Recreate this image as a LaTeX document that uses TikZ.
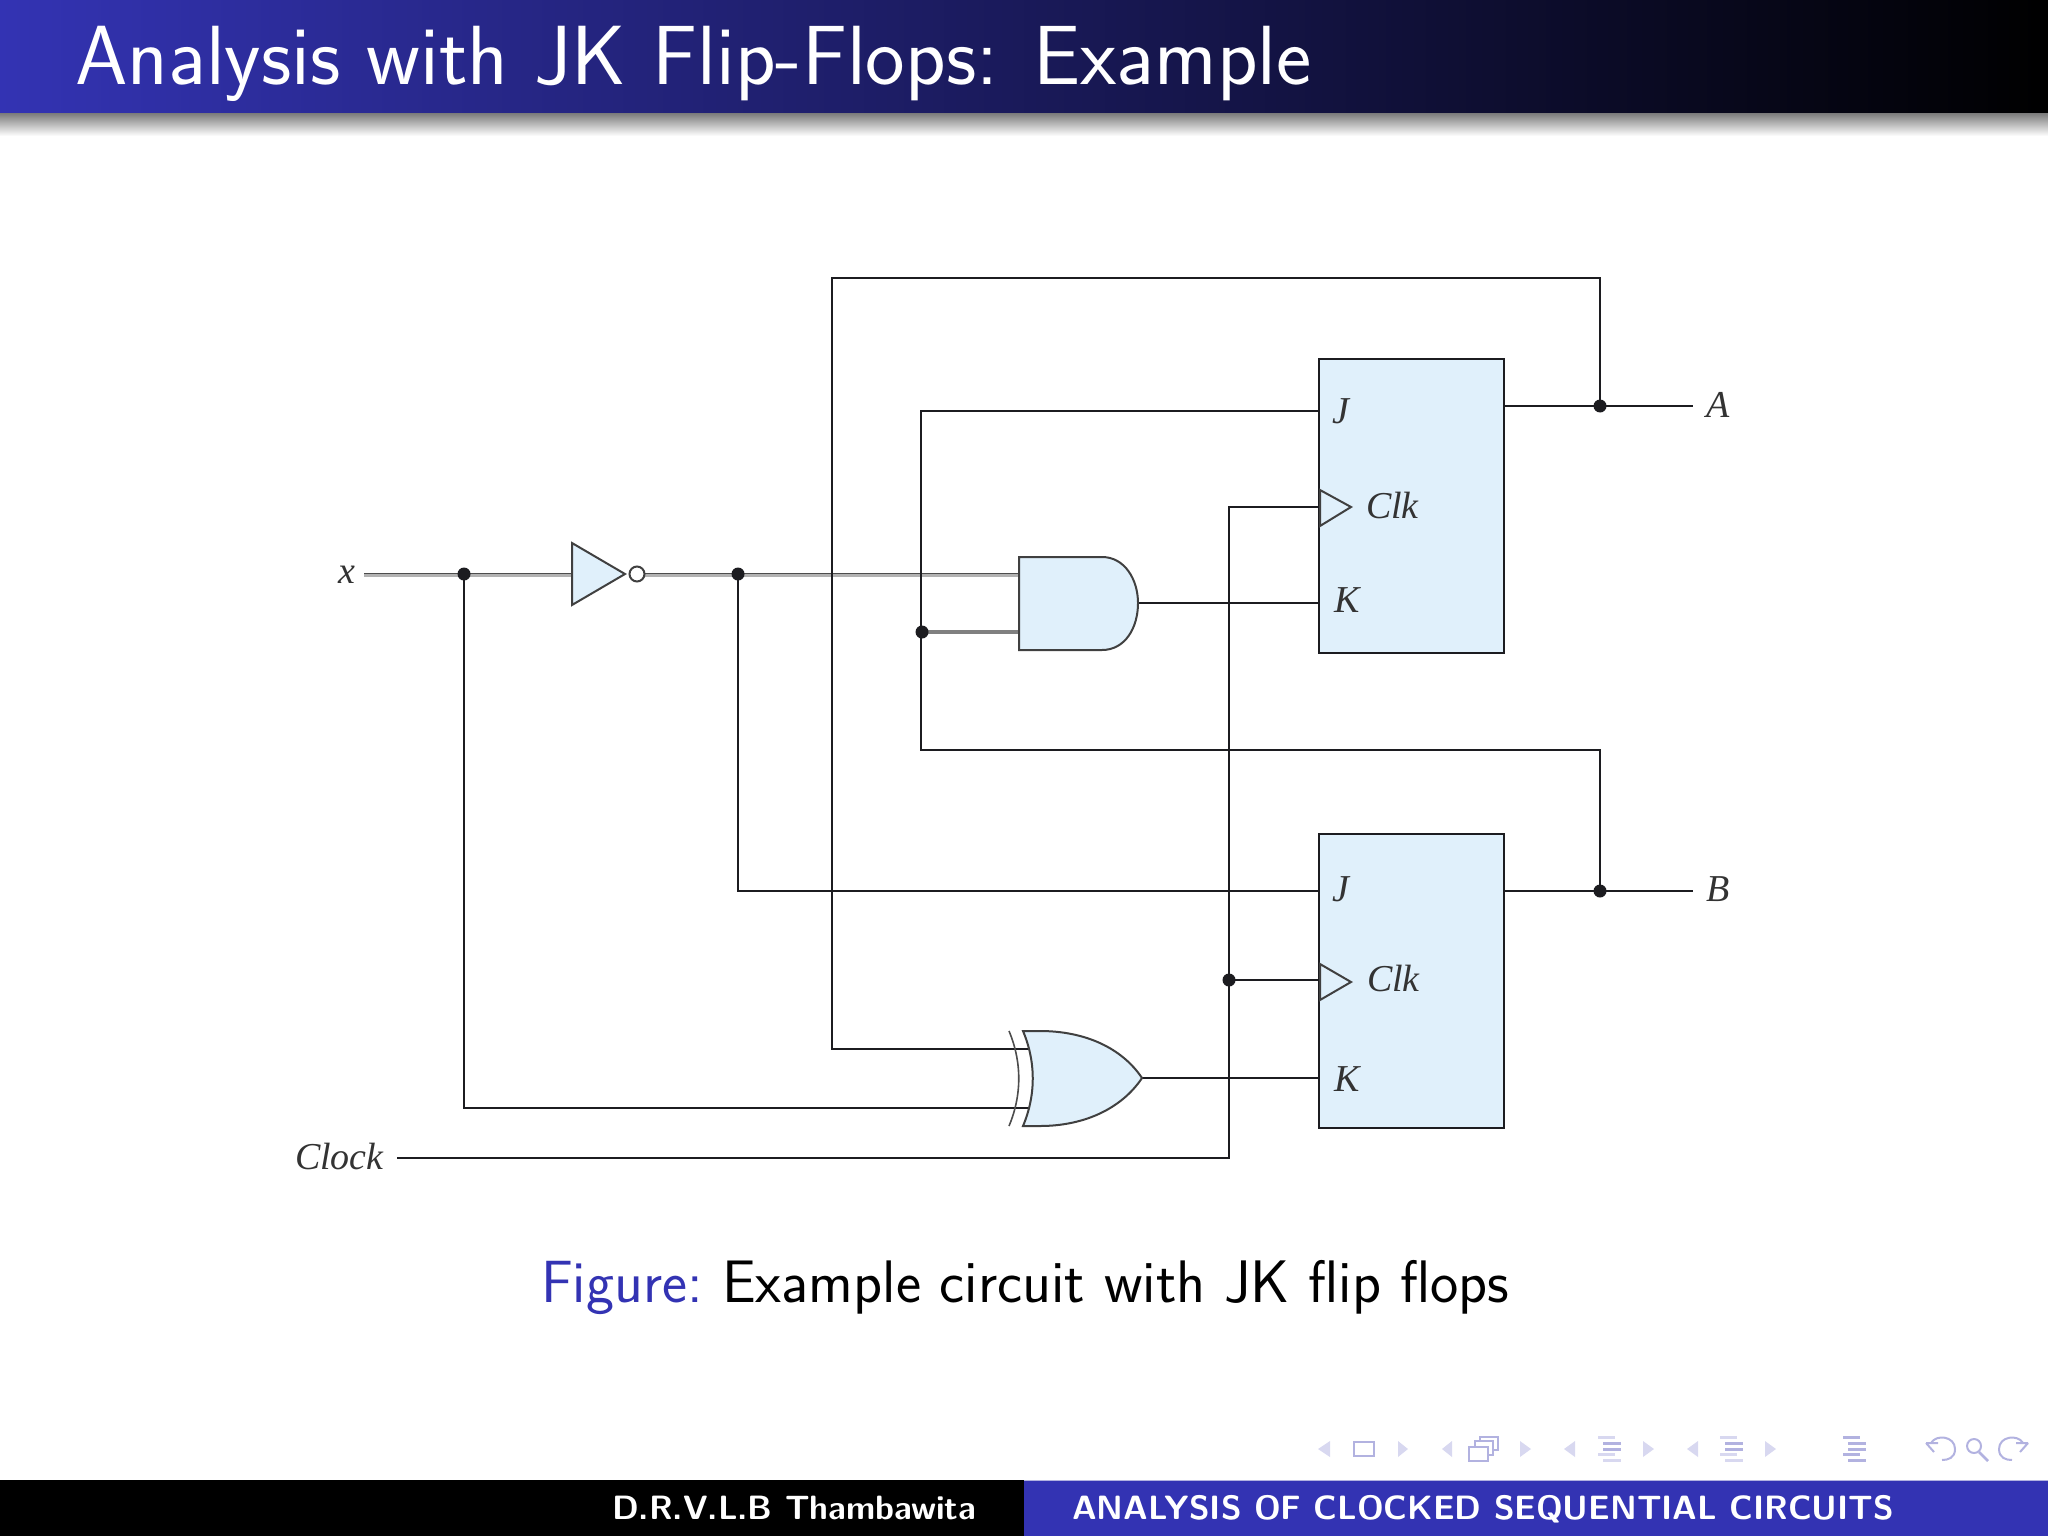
\documentclass[tikz,border=0pt]{standalone}
\usepackage{fontspec}
\usetikzlibrary{backgrounds}
\newfontfamily\cirfont{Liberation Serif}
\definecolor{bluebar}{RGB}{51,51,179}
\definecolor{gatefill}{RGB}{224,240,251}
\definecolor{wirec}{RGB}{28,28,32}
\definecolor{navdark}{RGB}{178,178,224}
\definecolor{navlight}{RGB}{216,216,240}
\definecolor{figblue}{RGB}{51,51,179}
\tikzset{
  wire/.style={draw=wirec,line width=1.3pt},
  softwire/.style={draw=black!30,line width=1.5pt},
  gate/.style={draw=black!75,line width=1pt,fill=gatefill},
  ffbox/.style={draw=wirec,line width=1.2pt,fill=gatefill},
  dotj/.style={circle,fill=wirec,inner sep=0pt,minimum size=6.5pt},
  lab/.style={anchor=base west,inner sep=0pt,outer sep=0pt,text=black!80,font=\cirfont\itshape\fontsize{19}{19}\selectfont},
  slide/.style={anchor=base west,inner sep=0pt,outer sep=0pt,font=\sffamily},
  navl/.style={fill=navlight,draw=none},
  navd/.style={fill=navdark,draw=none},
  navi/.style={draw=navdark,line width=1pt,fill=none}
}
\begin{document}
\begin{tikzpicture}[x=0.5pt,y=-0.5pt]
\useasboundingbox (0,0) rectangle (2048,1536);
% bars
\fill[left color=bluebar,right color=black] (0,0) rectangle (2048,114);
\fill[top color=black!50,bottom color=white] (0,114) rectangle (2048,136);
\fill[black] (0,1480) rectangle (1024,1536);
\fill[bluebar] (1024,1480) rectangle (2048,1536);
\draw[navdark,line width=0.5pt] (1024,1480) -- (2048,1480);
\node[slide,text=white,font=\sffamily\fontsize{42}{42}\selectfont] (title) at (75,85) {Analysis with JK Flip-Flops: Example};
\node[slide,text=white,font=\sffamily\bfseries\fontsize{16.85}{16.85}\selectfont\addfontfeature{LetterSpace=6}] (auth) at (612,1519) {D.R.V.L.B Thambawita};
\node[slide,text=white,font=\sffamily\bfseries\fontsize{16.85}{16.85}\selectfont\addfontfeature{LetterSpace=6}] (sect) at (1072,1519) {ANALYSIS OF CLOCKED SEQUENTIAL CIRCUITS};
\node[slide,font=\sffamily\fontsize{29.8}{29.8}\selectfont] (cap) at (541,1302) {\textcolor{figblue}{Figure:}\hspace{-2.6pt} {\fontsize{30}{30}\selectfont Example circuit with JK flip flops}};
% coordinates
\coordinate (xs) at (364,574);
\coordinate (clks) at (397,1158);
\coordinate (invin) at (572,574);
\coordinate (invout) at (645,574);
\coordinate (andA) at (1019,574);
\coordinate (andB) at (1019,632);
\coordinate (andO) at (1138,603);
\coordinate (xorA) at (1031,1049);
\coordinate (xorB) at (1031,1108);
\coordinate (xorO) at (1142,1078);
\coordinate (j1) at (1322,411);
\coordinate (c1) at (1320,507);
\coordinate (k1) at (1320,603);
\coordinate (q1) at (1503,406);
\coordinate (j2) at (1320,891);
\coordinate (c2) at (1320,980);
\coordinate (k2) at (1320,1078);
\coordinate (q2) at (1503,891);
\coordinate (Aend) at (1693,406);
\coordinate (Bend) at (1693,891);
\coordinate (topL) at (832,278);
\coordinate (xorAc) at (832,1049);
\coordinate (midL) at (921,750);
\coordinate (clkT) at (1229,507);
% junctions
\node[dotj] (n1) at (464,574) {};
\node[dotj] (n2) at (738,574) {};
\node[dotj] (n3) at (922,632) {};
\node[dotj] (n4) at (1600,406) {};
\node[dotj] (n5) at (1600,891) {};
\node[dotj] (n6) at (1229,980) {};
% wires
\begin{pgfonlayer}{background}
\draw[softwire] ([yshift=-0.5pt]xs) -- ([yshift=-0.5pt]invin);
\draw[softwire] ([yshift=-0.5pt]invout) -- ([yshift=-0.5pt]andA);
\draw[wire,line width=0.7pt,draw=black!70] ([yshift=0.3pt]xs) -- ([yshift=0.3pt]invin) ([yshift=0.3pt]invout) -- ([yshift=0.3pt]andA);
\draw[draw=black!50,line width=2.2pt] (n3.center) -- (andB);
\draw[wire] (n4.center) |- (topL) -- (xorAc) -- (xorA);
\draw[wire] (n1.center) |- (xorB);
\draw[wire] (n2.center) |- (j2);
\draw[wire] (j1) -| (midL) -| (n5.center);
\draw[wire] (clks) -| (clkT) -- (c1);
\draw[wire] (n6.center) -- (c2);
\draw[wire] (andO) -- (k1);
\draw[wire] (xorO) -- (k2);
\draw[wire] (q1) -- (Aend);
\draw[wire] (q2) -- (Bend);
\end{pgfonlayer}
% flip flops
\draw[ffbox] (1319,359) rectangle (1504,653);
\draw[ffbox] (1319,834) rectangle (1504,1128);
\draw[gate,fill=gatefill] (1320,490) -- (1351,507) -- (1320,526) -- cycle;
\draw[gate,fill=gatefill] (1320,964) -- (1351,982) -- (1320,1000) -- cycle;
% gates
\draw[gate] (572,543) -- (625,574) -- (572,605) -- cycle;
\draw[gate,fill=white] (637,574) circle[radius=7.5];
\draw[gate] (1019,557) -- (1102,557) .. controls (1125,557) and (1138,580) .. (1138,603) .. controls (1138,628) and (1125,650) .. (1102,650) -- (1019,650) -- cycle;
\draw[gate] (1023,1031) -- (1040,1031) .. controls (1085,1031) and (1122,1048) .. (1142,1078) .. controls (1122,1108) and (1085,1126) .. (1040,1126) -- (1023,1126) .. controls (1036,1095) and (1036,1062) .. (1023,1031) -- cycle;
\draw[draw=black!70,line width=0.8pt] (1009,1031) .. controls (1022,1062) and (1022,1095) .. (1009,1126);
% labels
\node[lab] (lx) at (338,583) {x};
\node[lab] (lclock) at (295,1169) {Clock};
\node[lab] (la) at (1706,417) {A};
\node[lab] (lb) at (1706,901) {B};
\node[lab] (lj1) at (1332,423) {J};
\node[lab] (lc1) at (1366,518) {Clk};
\node[lab] (lk1) at (1334,612) {K};
\node[lab] (lj2) at (1332,901) {J};
\node[lab] (lc2) at (1367,991) {Clk};
\node[lab] (lk2) at (1334,1091) {K};
% navigation
\fill[navl] (1330,1441) -- (1318,1449) -- (1330,1457) -- cycle;
\draw[navi] (1354,1442) rectangle (1374,1456);
\fill[navl] (1398,1441) -- (1408,1449) -- (1398,1457) -- cycle;
\fill[navl] (1452,1441) -- (1442,1449) -- (1452,1457) -- cycle;
\draw[navi] (1480,1437) rectangle (1498,1450);
\draw[navi,fill=white] (1475,1441) rectangle (1493,1455);
\draw[navi,fill=white] (1469,1447) rectangle (1488,1461);
\fill[navl] (1520,1441) -- (1531,1449) -- (1520,1457) -- cycle;
\fill[navl] (1575,1441) -- (1564,1449) -- (1575,1457) -- cycle;
\foreach \ox/\cc in {1598/navlight,1720/navlight,1843/navdark}{
  \fill[\cc] (\ox,1436) rectangle ++(17,3);
  \fill[navdark] (\ox+5,1442) rectangle ++(18,3);
  \fill[navdark] (\ox+5,1448) rectangle ++(18,3);
  \fill[\cc] (\ox,1453) rectangle ++(17,3);
  \fill[\cc] (\ox+5,1459) rectangle ++(18,3);
}
\fill[navl] (1643,1441) -- (1654,1449) -- (1643,1457) -- cycle;
\fill[navl] (1698,1441) -- (1687,1449) -- (1698,1457) -- cycle;
\fill[navl] (1765,1441) -- (1776,1449) -- (1765,1457) -- cycle;
% undo, search, redo
\draw[navi] (1931,1443) .. controls (1936,1434) and (1955,1436) .. (1955,1449) .. controls (1955,1458) and (1948,1460) .. (1942,1460);
\draw[navi] (1926,1443) -- (1934,1452) (1926,1443) -- (1938,1443);
\draw[navi] (1974,1446) circle[radius=7];
\draw[navi,line width=1.3pt] (1979,1452) -- (1988,1461);
\draw[navi] (2023,1443) .. controls (2018,1434) and (1999,1436) .. (1999,1449) .. controls (1999,1458) and (2006,1460) .. (2012,1460);
\draw[navi] (2028,1443) -- (2020,1452) (2028,1443) -- (2016,1443);
\end{tikzpicture}
\end{document}
